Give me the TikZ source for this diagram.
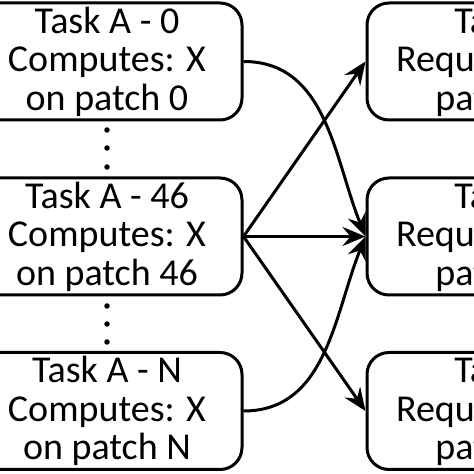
\documentclass[tikz,border=0pt]{standalone}
\usepackage{fontspec}
\setmainfont{Carlito}
\usetikzlibrary{arrows.meta}
\begin{document}
\begin{tikzpicture}[x=1pt,y=1pt,
  taskbox/.style={draw=black, line width=3pt, rounded corners=22pt, fill=white,
    minimum width=270pt, minimum height=117pt, inner sep=0pt, align=center,
    font=\fontsize{38}{38.5}\selectfont},
  dotmark/.style={circle, fill=black, inner sep=0pt, minimum size=5.5pt},
  arr/.style={line width=3pt, -{Stealth[length=23pt,width=19pt,inset=8pt]}}]
\clip (0,0) rectangle (474,474);
\fill[white] (0,0) rectangle (474,474);
\node[taskbox] (a0) at (107,412.5) {Task A - 0\\Computes: X\\on patch 0};
\node[taskbox] (a46) at (107,237.5) {Task A - 46\\Computes: X\\on patch 46};
\node[taskbox] (aN) at (107,63) {Task A - N\\Computes: X\\on patch N};
\node[taskbox] (b0) at (502,412.5) {Task B\\Requires: X, Y\\patch 46};
\node[taskbox] (b46) at (502,237.5) {Task B\\Requires: X, Y\\patch 46};
\node[taskbox] (bN) at (502,63) {Task B\\Requires: X, Y\\patch 46};
\node[dotmark] (d1) at (107,344) {};
\node[dotmark] (d2) at (107,326) {};
\node[dotmark] (d3) at (107,307) {};
\node[dotmark] (d4) at (107,168) {};
\node[dotmark] (d5) at (107,150) {};
\node[dotmark] (d6) at (107,132) {};
\draw[arr] (a0.east) to[out=0,in=112] (b46.west);
\draw[arr] (a46.east) -- (b0.west);
\draw[arr] (a46.east) -- (b46.west);
\draw[arr] (a46.east) -- (bN.west);
\draw[arr] (aN.east) to[out=0,in=-112] (b46.west);
\end{tikzpicture}
\end{document}
